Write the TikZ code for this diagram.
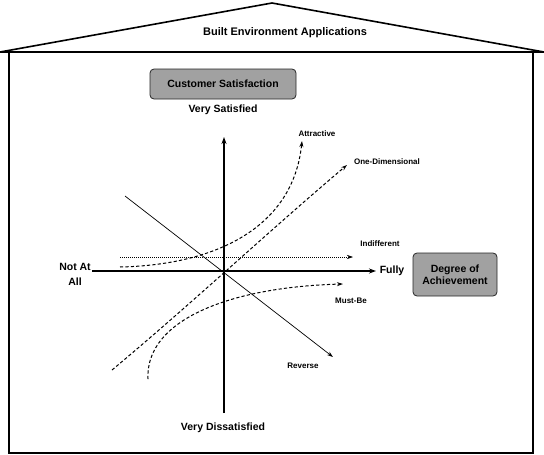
\documentclass[tikz,border=0pt]{standalone}
\usepackage{fontspec}
\setmainfont{Liberation Sans}
\usetikzlibrary{arrows.meta}
\tikzset{
  house/.style={line width=1.6pt, line join=miter},
  axis/.style={line width=1.8pt, -{Stealth[length=7pt,width=5pt]}},
  curvedash/.style={line width=1pt, dash pattern=on 3.2pt off 2.2pt, -{Stealth[length=6pt,width=4pt]}},
  thinarrow/.style={line width=0.7pt, -{Stealth[length=6pt,width=4pt]}},
  dotarrow/.style={line width=0.6pt, dash pattern=on 1pt off 1pt, -{Stealth[length=6pt,width=4pt]}},
  biglabel/.style={font=\fontsize{10.5}{12}\selectfont\bfseries, inner sep=0pt},
  smalllabel/.style={font=\fontsize{8}{9.5}\selectfont\bfseries, inner sep=0pt},
  graybox/.style={draw=black!85, line width=0.8pt, fill=black!37, rounded corners=4pt,
     font=\fontsize{10.5}{12.5}\selectfont\bfseries, align=center, inner sep=0pt},
}
\begin{document}
\begin{tikzpicture}[x=1pt,y=-1pt]
\useasboundingbox (0,0) rectangle (544,455);
% house
\draw[house] (0,52) -- (272,3) -- (544,52) -- cycle;
\draw[house] (9,52) -- (9,453) -- (533,453) -- (533,52);
\node[font=\fontsize{11}{13}\selectfont\bfseries, inner sep=0pt] (title) at (285,33) {Built Environment Applications};
% boxes
\node[graybox, minimum width=146pt, minimum height=30pt] (cs) at (223,84) {Customer Satisfaction};
\node[biglabel] (vs) at (223,110) {Very Satisfied};
\node[graybox, minimum width=84pt, minimum height=43pt] (da) at (455,274.5) {Degree of\\Achievement};
\node[biglabel] (vd) at (223,428) {Very Dissatisfied};
\node[biglabel, align=center, font=\fontsize{10.5}{15}\selectfont\bfseries] (nal) at (75,274.5) {Not At\\All};
\node[biglabel] (fully) at (392,271) {Fully};
% axis coordinates
\coordinate (vbot) at (224,413);
\coordinate (vtop) at (224,137);
\coordinate (hl) at (92,271);
\coordinate (hr) at (376,271);
\draw[axis] (vbot) -- (vtop);
\draw[axis] (hl) -- (hr);
% curves
\coordinate (ind1) at (120,257);
\coordinate (ind2) at (353,257);
\draw[dotarrow] (ind1) -- (ind2);
\node[smalllabel] (indl) at (380,244) {Indifferent};
\coordinate (rev1) at (125,196);
\coordinate (rev2) at (333,357);
\draw[thinarrow] (rev1) -- (rev2);
\node[smalllabel] (revl) at (303,366) {Reverse};
\coordinate (att1) at (120,267);
\coordinate (att2) at (302,141);
\draw[curvedash] (att1) .. controls (215,265) and (293,228) .. (att2);
\node[smalllabel] (attl) at (317,134) {Attractive};
\coordinate (od1) at (112,370);
\coordinate (od2) at (347,165);
\draw[curvedash] (od1) .. controls (190,305) and (270,230) .. (od2);
\node[smalllabel] (odl) at (387,162) {One-Dimensional};
\coordinate (mb1) at (148,379);
\coordinate (mb2) at (343,284);
\draw[curvedash] (mb1) .. controls (145,320) and (230,287) .. (mb2);
\node[smalllabel] (mbl) at (351,301) {Must-Be};
\end{tikzpicture}
\end{document}
